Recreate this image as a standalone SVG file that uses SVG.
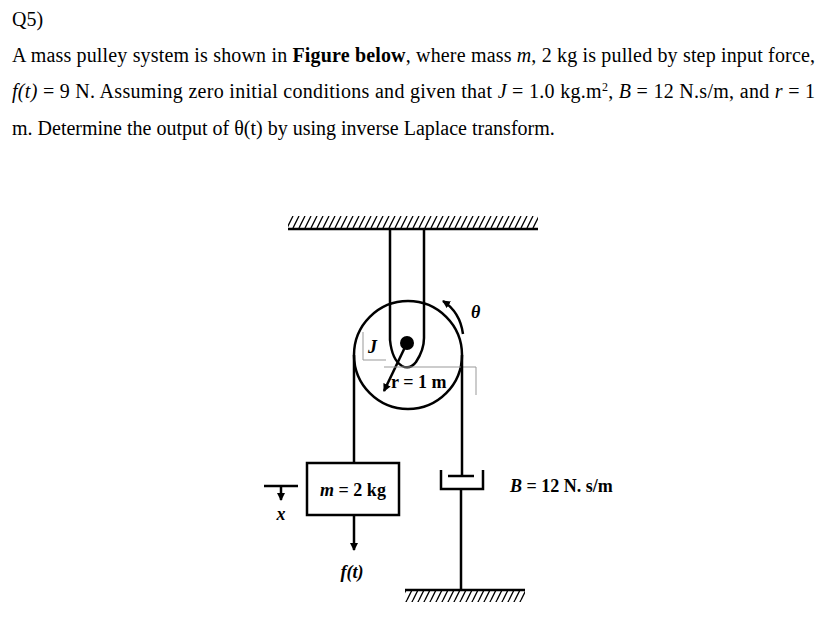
<svg xmlns="http://www.w3.org/2000/svg" width="820" height="627" viewBox="0 0 820 627">
<defs>
<pattern id="h" width="6" height="12" patternUnits="userSpaceOnUse"><path d="M-1,12 L5,0 M5,12 L11,0" stroke="#000" stroke-width="1.3"/></pattern>
<marker id="a" markerWidth="8" markerHeight="8" refX="7" refY="4" orient="auto" markerUnits="userSpaceOnUse"><path d="M0,0 L8,4 L0,8 z" fill="#000"/></marker>
</defs>
<style>
.t{font-family:"Liberation Serif",serif;font-size:20px;fill:#000}
.s{stroke:#000;stroke-width:2.5;fill:none}
.g{stroke:#999;stroke-width:1;fill:none}
.l{font-family:"Liberation Serif",serif;font-size:18px;font-weight:bold;fill:#000}
</style>
<rect width="820" height="627" fill="#fff"/>
<text class="t" x="12" y="26">Q5)</text>
<text class="t" x="12" y="62" textLength="803" lengthAdjust="spacing">A mass pulley system is shown in <tspan font-weight="bold">Figure below</tspan>, where mass <tspan font-style="italic">m</tspan>, 2 kg is pulled by step input force,</text>
<text class="t" x="12" y="98" textLength="803" lengthAdjust="spacing"><tspan font-style="italic">f(t)</tspan> = 9 N. Assuming zero initial conditions and given that <tspan font-style="italic">J</tspan> = 1.0 kg.m<tspan font-size="12" dy="-7">2</tspan><tspan dy="7">,  </tspan><tspan font-style="italic">B</tspan> = 12 N.s/m, and <tspan font-style="italic">r</tspan> = 1</text>
<text class="t" x="12" y="135">m. Determine the output of  θ(t) by using inverse Laplace transform.</text>
<g id="ceiling"><rect x="288" y="216" width="250" height="12" fill="url(#h)"/><line class="s" x1="288" y1="229" x2="538" y2="229"/></g>
<g id="ground"><rect x="405" y="590" width="120" height="12" fill="url(#h)"/><line class="s" x1="405" y1="590" x2="525" y2="590"/></g>
<g id="pulley">
<circle class="s" cx="408" cy="355" r="54"/>
<path class="s" d="M390,229 V340 Q392,360 402,366 Q410,370 416,362 Q424,350 424,338 V229"/>
<circle cx="407" cy="343" r="7" fill="#000"/>
<line class="s" stroke-width="2" x1="407" y1="343" x2="384" y2="391" marker-end="url(#a)"/>
<path class="g" d="M363,332 V360 H386"/>
<path class="g" d="M384,367 H476 V395"/>
<text class="l" x="368" y="353" font-style="italic" font-size="15">J</text>
<text class="l" x="391" y="388">r = 1 m</text>
<path class="s" stroke-width="2" d="M463,334 Q460,312 443,301" marker-end="url(#a)"/>
<text class="l" x="471" y="318" font-style="italic" font-weight="normal">θ</text>
</g>
<g id="mass">
<rect class="s" x="307" y="463" width="92" height="52"/>
<text class="l" x="353" y="496" text-anchor="middle"><tspan font-style="italic">m</tspan> = 2 kg</text>
</g>
<g id="damper">
<path class="s" d="M441,470 V489 H483 V470"/>
<line class="s" x1="448" y1="476" x2="474" y2="476"/>
<text class="l" x="510" y="492" font-size="19"><tspan font-style="italic">B</tspan> = 12 N. s/m</text>
</g>
<g id="connectors">
<line class="s" x1="354" y1="355" x2="354" y2="463"/>
<line class="s" x1="462" y1="355" x2="462" y2="476"/>
<line class="s" x1="461" y1="489" x2="461" y2="590"/>
<line class="s" stroke-width="2" x1="354" y1="515" x2="354" y2="550" marker-end="url(#a)"/>
<line class="s" stroke-width="2" x1="264" y1="486" x2="298" y2="486"/>
<line class="s" stroke-width="1.5" x1="281" y1="486" x2="281" y2="500" marker-end="url(#a)"/>
<text class="l" x="281" y="520" text-anchor="middle" font-style="italic">x</text>
<text class="l" x="352" y="578" text-anchor="middle" font-style="italic" font-weight="normal" font-size="19">f(t)</text>
</g>
</svg>
